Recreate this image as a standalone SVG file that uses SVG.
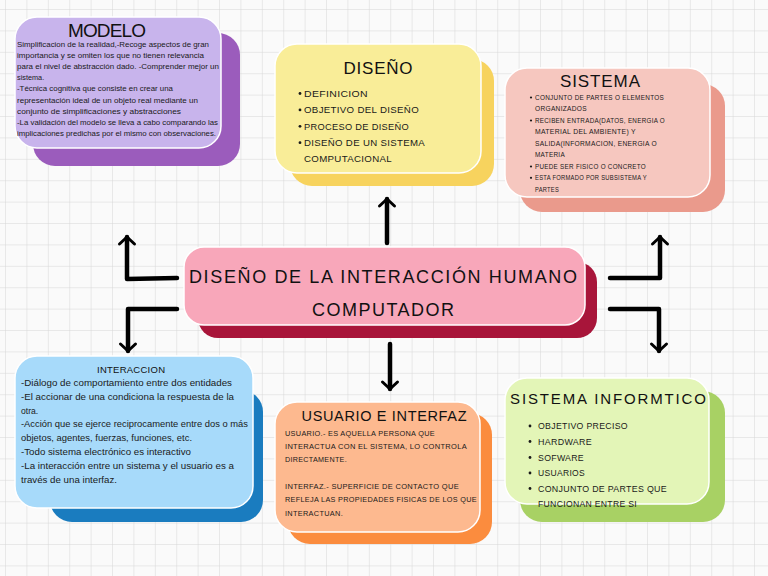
<svg xmlns="http://www.w3.org/2000/svg" width="768" height="576" viewBox="0 0 768 576">
<defs>
<pattern id="grid" x="6" y="10" width="21.4" height="21.4" patternUnits="userSpaceOnUse">
<path d="M21.4 0V21.4M0 21.4H21.4" fill="none" stroke="#d6d6d6" stroke-width="1"/>
</pattern>
<marker id="chev" viewBox="-10 -10 20 20" refX="0" refY="0" markerWidth="20" markerHeight="20" markerUnits="userSpaceOnUse" orient="auto">
<path d="M-7,-7.5 L0,0 L-7,7.5" fill="none" stroke="#000" stroke-width="3" stroke-linecap="round" stroke-linejoin="round"/>
</marker>
<style>
.front{stroke:#ffffff;stroke-width:1.5}
.title{font-family:"Liberation Sans","DejaVu Sans",sans-serif;fill:#111;text-anchor:middle}
.body{font-family:"Liberation Sans","DejaVu Sans",sans-serif;fill:#1a1a1a}
.caps{font-family:"Liberation Sans","DejaVu Sans",sans-serif;fill:#1a1a1a;letter-spacing:0.3px}
.arrow{fill:none;stroke:#000;stroke-width:4.5;stroke-linecap:round;stroke-linejoin:round;marker-end:url(#chev)}
</style>
</defs>
<rect width="768" height="576" fill="#fafafa"/>
<rect width="768" height="576" fill="url(#grid)"/>

<g id="connectors">
<path class="arrow" d="M387,243 L387,199"/>
<path class="arrow" d="M390,344 L390,389"/>
<path class="arrow" d="M177,278 L127,279 L127,237"/>
<path class="arrow" d="M177,309 L128,309 L128,351"/>
<path class="arrow" d="M610,278 L660,278 L660,237"/>
<path class="arrow" d="M610,309 L659,309 L659,351"/>
</g>

<g id="modelo">
<rect x="33" y="33" width="207" height="133" rx="22" fill="#9b5cbc"/>
<rect class="front" x="15" y="17" width="206" height="131" rx="22" fill="#c8b4ec"/>
<text class="title" x="107" y="37" font-size="19" textLength="78" lengthAdjust="spacing">MODELO</text>
<g class="body" font-size="7.3">
<text x="17" y="46.5" textLength="192" lengthAdjust="spacingAndGlyphs">Simplificacion de la realidad,-Recoge aspectos de gran</text>
<text x="17" y="57.7" textLength="187" lengthAdjust="spacingAndGlyphs">importancia y se omiten los que no tienen relevancia</text>
<text x="17" y="68.9" textLength="202" lengthAdjust="spacingAndGlyphs">para el nivel de abstracción dado. -Comprender mejor un</text>
<text x="17" y="80.1">sistema.</text>
<text x="17" y="91.3" textLength="156" lengthAdjust="spacingAndGlyphs">-Técnica cognitiva que consiste en crear una</text>
<text x="17" y="102.5" textLength="181" lengthAdjust="spacingAndGlyphs">representación ideal de un objeto real mediante un</text>
<text x="17" y="113.7" textLength="164" lengthAdjust="spacingAndGlyphs">conjunto de simplificaciones y abstracciones</text>
<text x="17" y="124.9" textLength="201" lengthAdjust="spacingAndGlyphs">-La validación del modelo se lleva a cabo comparando las</text>
<text x="17" y="136.1" textLength="199" lengthAdjust="spacingAndGlyphs">implicaciones predichas por el mismo con observaciones.</text>
</g>
</g>

<g id="diseno">
<rect x="290" y="59" width="204" height="127" rx="22" fill="#f7d35e"/>
<rect class="front" x="275" y="44" width="206" height="129" rx="22" fill="#f9ed98"/>
<text class="title" x="378" y="74" font-size="17" textLength="69" lengthAdjust="spacing">DISEÑO</text>
<g fill="#1a1a1a">
<circle cx="300" cy="93.5" r="1.4"/><circle cx="300" cy="109.9" r="1.4"/><circle cx="300" cy="126.3" r="1.4"/><circle cx="300" cy="142.7" r="1.4"/>
</g>
<g class="caps" font-size="9">
<text x="304" y="96.7" textLength="64" lengthAdjust="spacingAndGlyphs">DEFINICION</text>
<text x="304" y="113.1" textLength="115" lengthAdjust="spacingAndGlyphs">OBJETIVO DEL DISEÑO</text>
<text x="304" y="129.5" textLength="105" lengthAdjust="spacingAndGlyphs">PROCESO DE DISEÑO</text>
<text x="304" y="145.9" textLength="121" lengthAdjust="spacingAndGlyphs">DISEÑO DE UN SISTEMA</text>
<text x="304" y="162.3" textLength="88" lengthAdjust="spacingAndGlyphs">COMPUTACIONAL</text>
</g>
</g>

<g id="sistema">
<rect x="520" y="84" width="205" height="128" rx="22" fill="#ea9a8c"/>
<rect class="front" x="505" y="68" width="205" height="129" rx="22" fill="#f6c7bf"/>
<text class="title" x="600" y="87" font-size="17" textLength="80" lengthAdjust="spacing">SISTEMA</text>
<g fill="#1a1a1a">
<circle cx="531" cy="97.5" r="1.1"/><circle cx="531" cy="120.5" r="1.1"/><circle cx="531" cy="166.5" r="1.1"/><circle cx="531" cy="177.8" r="1.1"/>
</g>
<g class="caps" font-size="6.5">
<text x="535" y="99.7" textLength="129" lengthAdjust="spacingAndGlyphs">CONJUNTO DE PARTES O ELEMENTOS</text>
<text x="535" y="111.2" textLength="52" lengthAdjust="spacingAndGlyphs">ORGANIZADOS</text>
<text x="535" y="122.7" textLength="130" lengthAdjust="spacingAndGlyphs">RECIBEN ENTRADA(DATOS, ENERGIA O</text>
<text x="535" y="134.2" textLength="101" lengthAdjust="spacingAndGlyphs">MATERIAL DEL AMBIENTE) Y</text>
<text x="535" y="145.7" textLength="122" lengthAdjust="spacingAndGlyphs">SALIDA(INFORMACION, ENERGIA O</text>
<text x="535" y="157.2" textLength="30" lengthAdjust="spacingAndGlyphs">MATERIA</text>
<text x="535" y="168.7" textLength="111" lengthAdjust="spacingAndGlyphs">PUEDE SER FISICO O CONCRETO</text>
<text x="535" y="180.2" textLength="112" lengthAdjust="spacingAndGlyphs">ESTA FORMADO POR SUBSISTEMA Y</text>
<text x="535" y="191.7" textLength="24" lengthAdjust="spacingAndGlyphs">PARTES</text>
</g>
</g>

<g id="central">
<rect x="198" y="262" width="399" height="76" rx="20" fill="#a8153a"/>
<rect class="front" x="184" y="247" width="401" height="78" rx="20" fill="#f8a7ba"/>
<text class="title" x="383" y="282.5" font-size="18" textLength="388" lengthAdjust="spacing">DISEÑO DE LA INTERACCIÓN HUMANO</text>
<text class="title" x="383" y="316" font-size="18" textLength="142" lengthAdjust="spacing">COMPUTADOR</text>
</g>

<g id="interaccion">
<rect x="50" y="390" width="213" height="132" rx="22" fill="#1a7cbf"/>
<rect class="front" x="15" y="356" width="238" height="152" rx="22" fill="#a7dafa"/>
<text class="title" x="131" y="373" font-size="9.5" textLength="68" lengthAdjust="spacing">INTERACCION</text>
<g class="body" font-size="8.6">
<text x="21" y="386" textLength="211" lengthAdjust="spacingAndGlyphs">-Diálogo de comportamiento entre dos entidades</text>
<text x="21" y="399.8" textLength="213" lengthAdjust="spacingAndGlyphs">-El accionar de una condiciona la respuesta de la</text>
<text x="21" y="413.6">otra.</text>
<text x="21" y="427.4" textLength="227" lengthAdjust="spacingAndGlyphs">-Acción que se ejerce reciprocamente entre dos o más</text>
<text x="21" y="441.2" textLength="171" lengthAdjust="spacingAndGlyphs">objetos, agentes, fuerzas, funciones, etc.</text>
<text x="21" y="455" textLength="170" lengthAdjust="spacingAndGlyphs">-Todo sistema electrónico es interactivo</text>
<text x="21" y="468.8" textLength="213" lengthAdjust="spacingAndGlyphs">-La interacción entre un sistema y el usuario es a</text>
<text x="21" y="482.6" textLength="96" lengthAdjust="spacingAndGlyphs">través de una interfaz.</text>
</g>
</g>

<g id="usuario">
<rect x="288" y="413" width="204" height="131" rx="22" fill="#fb8c3e"/>
<rect class="front" x="275" y="402" width="205" height="130" rx="22" fill="#fdb98f"/>
<text class="title" x="384" y="421" font-size="14.5" textLength="165" lengthAdjust="spacing">USUARIO E INTERFAZ</text>
<g class="caps" font-size="7.2">
<text x="285" y="435.7" textLength="150" lengthAdjust="spacingAndGlyphs">USUARIO.- ES AQUELLA PERSONA QUE</text>
<text x="285" y="449" textLength="182" lengthAdjust="spacingAndGlyphs">INTERACTUA CON EL SISTEMA, LO CONTROLA</text>
<text x="285" y="462.3" textLength="62" lengthAdjust="spacingAndGlyphs">DIRECTAMENTE.</text>
<text x="285" y="488.9" textLength="174" lengthAdjust="spacingAndGlyphs">INTERFAZ.- SUPERFICIE DE CONTACTO QUE</text>
<text x="285" y="502.2" textLength="192" lengthAdjust="spacingAndGlyphs">REFLEJA LAS PROPIEDADES FISICAS DE LOS QUE</text>
<text x="285" y="515.5" textLength="58" lengthAdjust="spacingAndGlyphs">INTERACTUAN.</text>
</g>
</g>

<g id="sistema-informatico">
<rect x="520" y="391" width="205" height="131" rx="22" fill="#a8d164"/>
<rect class="front" x="505" y="378" width="204" height="126" rx="22" fill="#e3f5b7"/>
<text class="title" x="608" y="404" font-size="15" textLength="196" lengthAdjust="spacing">SISTEMA INFORMTICO</text>
<g fill="#1a1a1a">
<circle cx="530" cy="426" r="1.4"/><circle cx="530" cy="441.5" r="1.4"/><circle cx="530" cy="457.5" r="1.4"/><circle cx="530" cy="473" r="1.4"/><circle cx="530" cy="488.5" r="1.4"/>
</g>
<g class="caps" font-size="8.5">
<text x="538" y="429" textLength="90" lengthAdjust="spacingAndGlyphs">OBJETIVO PRECISO</text>
<text x="538" y="444.5" textLength="54" lengthAdjust="spacingAndGlyphs">HARDWARE</text>
<text x="538" y="460.5" textLength="46" lengthAdjust="spacingAndGlyphs">SOFWARE</text>
<text x="538" y="476" textLength="47" lengthAdjust="spacingAndGlyphs">USUARIOS</text>
<text x="538" y="491.5" textLength="129" lengthAdjust="spacingAndGlyphs">CONJUNTO DE PARTES QUE</text>
<text x="538" y="507" textLength="99" lengthAdjust="spacingAndGlyphs">FUNCIONAN ENTRE SI</text>
</g>
</g>
</svg>
